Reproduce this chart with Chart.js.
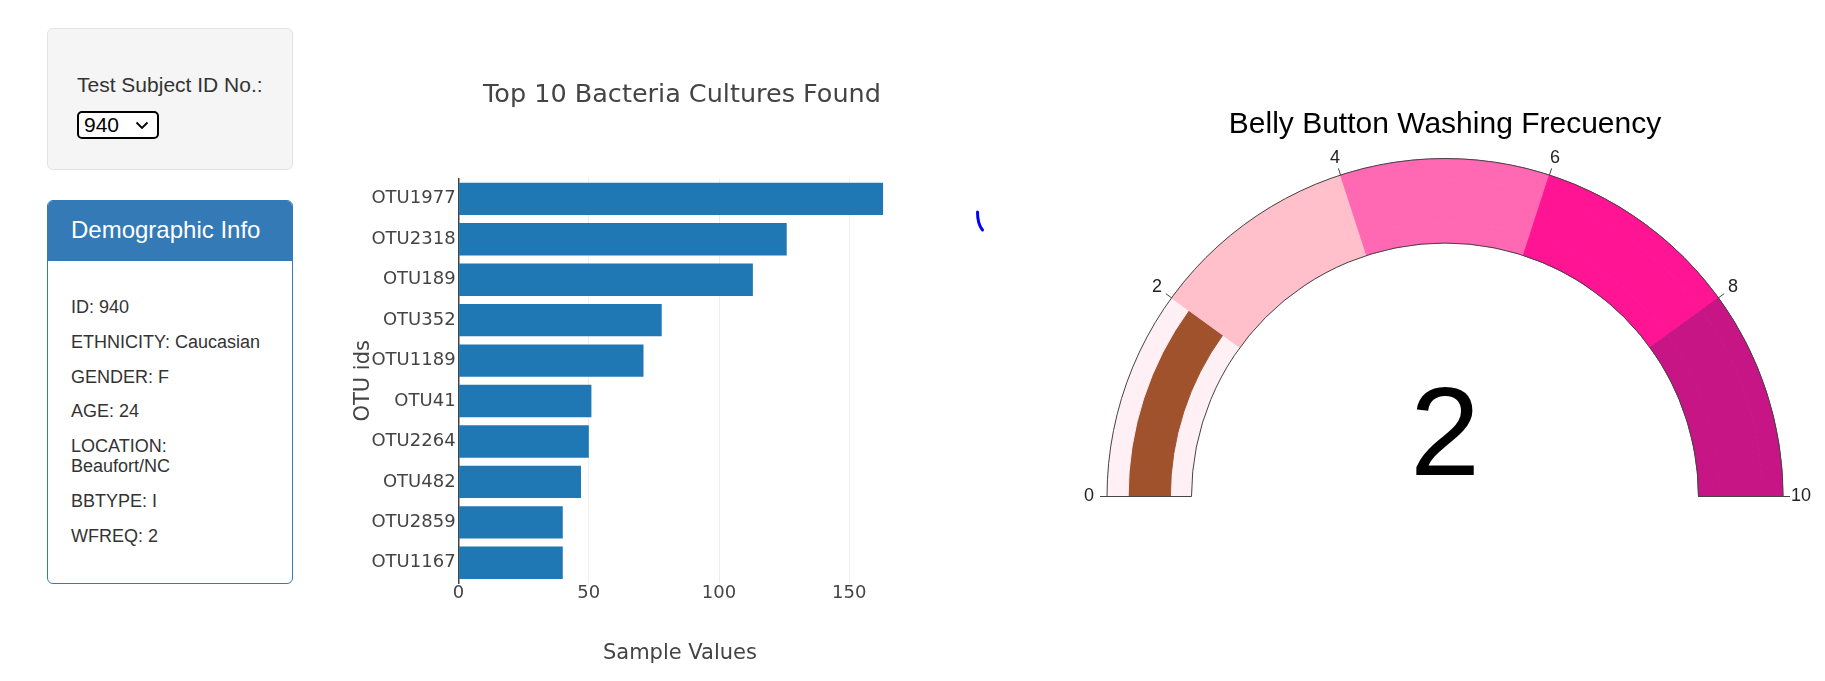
<!DOCTYPE html>
<html>
<head>
<meta charset="utf-8">
<script src="https://cdn.jsdelivr.net/npm/chart.js@4.4.1/dist/chart.umd.min.js"></script>
<style>
  body { margin: 0; background: #fff; font-family: "Liberation Sans", Arial, sans-serif; color: #333; }
  .well {
    position: absolute; left: 47px; top: 28px; width: 244px; height: 140px;
    background: #f5f5f5; border: 1px solid #e3e3e3; border-radius: 6px;
  }
  .well h5 { position: absolute; left: 29px; top: 44px; margin: 0; font-size: 21px; font-weight: normal; line-height: 1.1; color: #333; }
  .sel {
    position: absolute; left: 29px; top: 82px; width: 78px; height: 24px;
    border: 2px solid #000; border-radius: 5px; background: #fff;
    font-size: 21px; line-height: 24px; color: #000; box-sizing: content-box;
  }
  .sel span { position: absolute; left: 5px; top: 0; }
  .sel svg { position: absolute; right: 8px; top: 8px; }
  .panel {
    position: absolute; left: 47px; top: 200px; width: 244px; height: 382px;
    border: 1px solid #337ab7; border-radius: 6px; overflow: hidden; background: #fff;
  }
  .panel-heading { background: #337ab7; color: #fff; height: 60px; }
  .panel-heading h3 { margin: 0; padding: 16px 23px 0; font-size: 24px; font-weight: normal; line-height: 1.1; }
  .panel-body { padding: 22px 23px 0; }
  .panel-body h6 { margin: 15px 0; font-size: 18px; font-weight: normal; line-height: 1.1; color: #333; }
  #barBox { position: absolute; left: 332px; top: 40px; width: 700px; height: 641px; }
  #gaugeBox { position: absolute; left: 1050px; top: 0; width: 775px; height: 681px; }
  #blip { position: absolute; left: 974px; top: 210px; }
</style>
</head>
<body>
<div class="well">
  <h5>Test Subject ID No.:</h5>
  <div class="sel"><span id="selVal"></span>
    <svg width="14" height="9" viewBox="0 0 14 9"><path d="M1.5 1.5 L7 7 L12.5 1.5" fill="none" stroke="#000" stroke-width="1.8"/></svg>
  </div>
</div>
<div class="panel">
  <div class="panel-heading"><h3>Demographic Info</h3></div>
  <div class="panel-body" id="meta"></div>
</div>
<div id="barBox"><canvas id="bar"></canvas></div>
<svg id="blip" width="14" height="24"><path d="M3.5 2 Q3.5 14 8.5 20" fill="none" stroke="#0000ff" stroke-width="3" stroke-linecap="round"/></svg>
<div id="gaugeBox"><canvas id="gauge"></canvas></div>

<script>
// subject
const subjectId = 940;
const metaKeys = ['ID', 'ETHNICITY', 'GENDER', 'AGE', 'LOCATION', 'BBTYPE', 'WFREQ'];
const metaValues = ['940', 'Caucasian', 'F', '24', 'Beaufort/NC', 'I', '2'];

// bar chart data
const otuIds = ['OTU1977', 'OTU2318', 'OTU189', 'OTU352', 'OTU1189', 'OTU41', 'OTU2264', 'OTU482', 'OTU2859', 'OTU1167'];
const sampleValues = [163, 126, 113, 78, 71, 51, 50, 47, 40, 40];
const xTicks = [0, 50, 100, 150];

// gauge data
const washFreq = 2;
const gaugeTicks = [0, 2, 4, 6, 8, 10];
const stepEdges = [0, 2, 4, 6, 8, 10];
const stepColors = ['#fff0f5', '#ffc0cb', '#ff69b4', '#ff1493', '#c71585'];
const barColor = '#a0522d';

document.getElementById('selVal').textContent = subjectId;
const metaDiv = document.getElementById('meta');
metaKeys.forEach((k, i) => {
  const h = document.createElement('h6');
  h.textContent = k + ': ' + metaValues[i];
  if (k === 'LOCATION') h.innerHTML = k + ':<br>' + metaValues[i];
  metaDiv.appendChild(h);
});

const plotFont = '"DejaVu Sans", Verdana, sans-serif';

new Chart(document.getElementById('bar'), {
  type: 'bar',
  data: {
    labels: otuIds,
    datasets: [{
      data: sampleValues,
      backgroundColor: '#1f77b4',
      borderWidth: 0,
      categoryPercentage: 1,
      barPercentage: 0.8
    }]
  },
  options: {
    indexAxis: 'y',
    responsive: true,
    maintainAspectRatio: false,
    animation: false,
    layout: { padding: 0 },
    plugins: {
      legend: { display: false },
      tooltip: { enabled: false },
      title: {
        display: true,
        text: 'Top 10 Bacteria Cultures Found',
        color: '#444',
        font: { family: plotFont, size: 25.5, weight: 'normal', lineHeight: 1.2 },
        padding: { top: 40, bottom: 68 }
      }
    },
    scales: {
      x: {
        min: 0,
        max: 170,
        afterBuildTicks: s => { s.ticks = xTicks.map(v => ({ value: v })); },
        afterFit: s => { s.height = 98; },
        grid: { color: '#eee', drawTicks: false },
        border: { display: false },
        ticks: { color: '#444', font: { family: plotFont, size: 18 }, padding: 0, maxRotation: 0 },
        title: {
          display: true, text: 'Sample Values', color: '#444',
          font: { family: plotFont, size: 21, lineHeight: 1.2 },
          padding: { top: 0, bottom: 15 }
        }
      },
      y: {
        afterFit: s => { s.width = 126.6; },
        grid: { display: false, drawTicks: false },
        border: { display: true, color: '#444', width: 1.5 },
        ticks: { color: '#444', font: { family: plotFont, size: 18 }, padding: 3 },
        title: {
          display: true, text: 'OTU ids', color: '#444',
          font: { family: plotFont, size: 21, lineHeight: 1.2 },
          padding: { top: 19, bottom: 0 }
        }
      },
      // empty right-hand margin so the title sits centred over the plot
      yMargin: {
        type: 'linear', axis: 'y', position: 'right',
        afterFit: s => { s.width = 130.7; },
        grid: { display: false, drawTicks: false },
        border: { display: false },
        ticks: { display: false }
      }
    }
  }
});

// gauge rings: outer and inner show the steps, the middle one carries the value bar
const stepSizes = stepColors.map((c, i) => stepEdges[i + 1] - stepEdges[i]);
const midData = [washFreq];
const midColors = [barColor];
stepColors.forEach((c, i) => {
  const part = stepEdges[i + 1] - Math.max(stepEdges[i], washFreq);
  midData.push(Math.max(part, 0));
  midColors.push(c);
});
const gaugeMax = stepEdges[stepEdges.length - 1];

const gaugeDecor = {
  id: 'gaugeDecor',
  afterDatasetsDraw(chart) {
    const outer = chart.getDatasetMeta(0).data[0];
    const inner = chart.getDatasetMeta(2).data[0];
    const cx = outer.x, cy = outer.y;
    const R = outer.outerRadius, r = inner.innerRadius;
    const ctx = chart.ctx;
    ctx.save();
    ctx.strokeStyle = '#444';
    ctx.lineWidth = 1;
    ctx.beginPath();
    ctx.arc(cx, cy, R, Math.PI, 2 * Math.PI);
    ctx.arc(cx, cy, r, 2 * Math.PI, Math.PI, true);
    ctx.closePath();
    ctx.stroke();

    ctx.font = '18px "Liberation Sans", Arial, sans-serif';
    ctx.fillStyle = '#222';
    ctx.textAlign = 'center';
    ctx.textBaseline = 'middle';
    gaugeTicks.forEach(v => {
      const a = Math.PI + (v / gaugeMax) * Math.PI;
      const ca = Math.cos(a), sa = Math.sin(a);
      ctx.beginPath();
      ctx.moveTo(cx + ca * R, cy + sa * R);
      ctx.lineTo(cx + ca * (R + 7), cy + sa * (R + 7));
      ctx.stroke();
      ctx.fillText(String(v), cx + ca * (R + 18), cy + sa * (R + 18));
    });

    ctx.fillStyle = '#000';
    ctx.font = '126px "Liberation Sans", Arial, sans-serif';
    ctx.textBaseline = 'alphabetic';
    ctx.fillText(String(washFreq), cx, cy - 22);
    ctx.restore();
  }
};

new Chart(document.getElementById('gauge'), {
  type: 'doughnut',
  data: {
    datasets: [
      { data: stepSizes, backgroundColor: stepColors, borderColor: stepColors, borderWidth: 1, weight: 1 },
      { data: midData, backgroundColor: midColors, borderColor: midColors, borderWidth: 1, weight: 2 },
      { data: stepSizes, backgroundColor: stepColors, borderColor: stepColors, borderWidth: 1, weight: 1 }
    ]
  },
  options: {
    responsive: true,
    maintainAspectRatio: false,
    animation: false,
    rotation: -90,
    circumference: 180,
    cutout: '75%',
    layout: { padding: { left: 56, right: 41, top: 0, bottom: 184 } },
    plugins: {
      legend: { display: false },
      tooltip: { enabled: false },
      title: {
        display: true,
        text: 'Belly Button Washing Frecuency',
        color: '#000',
        font: { family: '"Liberation Sans", Arial, sans-serif', size: 30, weight: 'normal', lineHeight: 1.2 },
        padding: { top: 107, bottom: 15 }
      }
    }
  },
  plugins: [gaugeDecor]
});
</script>
</body>
</html>
